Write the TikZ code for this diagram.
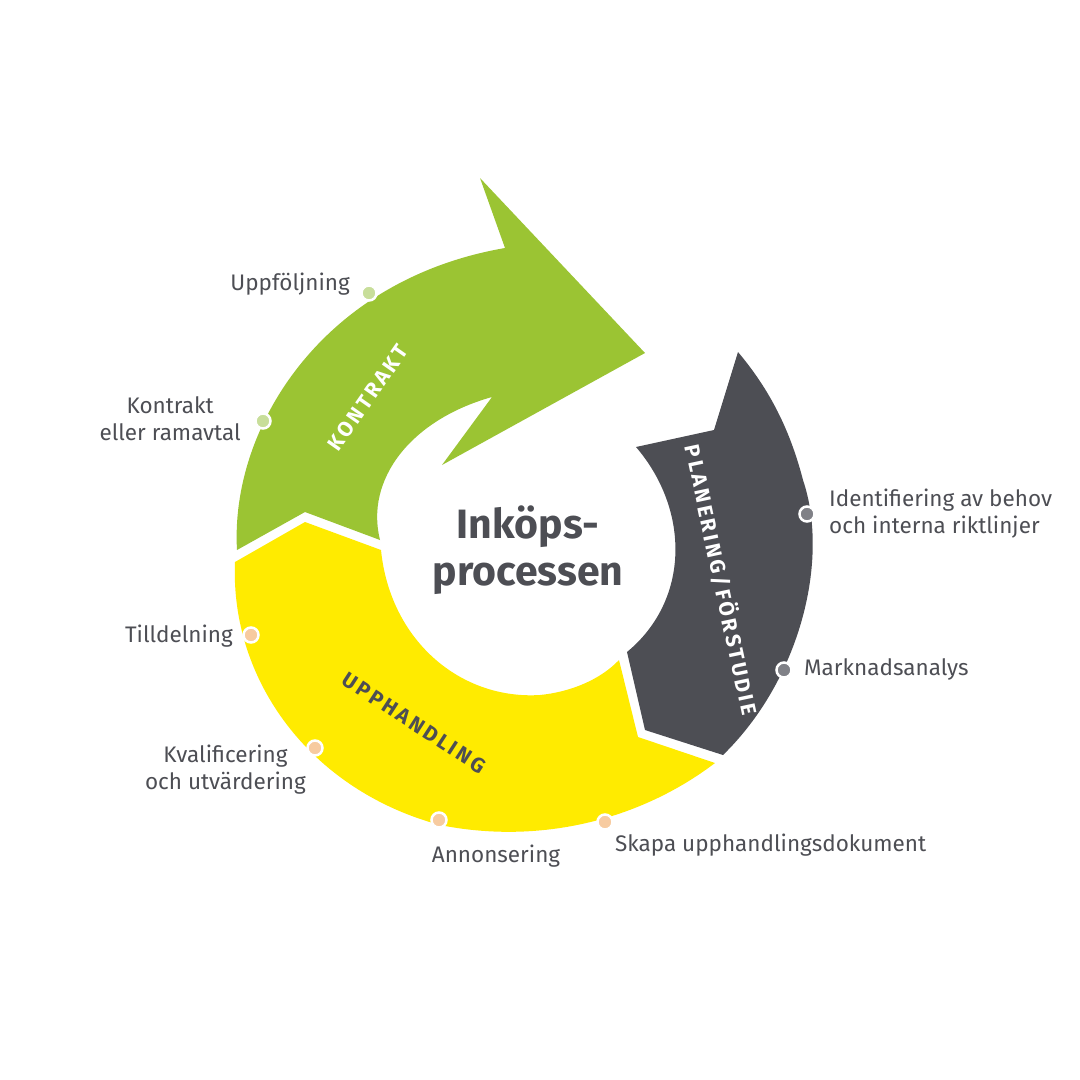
\documentclass[tikz,border=0pt]{standalone}
\usepackage{fontspec}
\setmainfont{Fira Sans}
\begin{document}
\begin{tikzpicture}[x=1pt,y=-1pt,
 lbl/.style={text=txt,font=\fontsize{22.5}{27}\selectfont,align=center,inner sep=0pt},
 seg/.style={font=\bfseries\fontsize{21}{24}\selectfont\addfontfeature{LetterSpace=14},inner sep=0pt},
 dot/.style={circle,draw=white,line width=2.5pt,minimum size=15pt,inner sep=0pt}]
\definecolor{grn}{HTML}{9BC433}\definecolor{yel}{HTML}{FFEB00}\definecolor{drk}{HTML}{4D4E54}
\definecolor{txt}{HTML}{4D4E54}\definecolor{lg}{HTML}{C8DE9A}\definecolor{org}{HTML}{F7CBA0}\definecolor{gd}{HTML}{808187}
\useasboundingbox (0,0) rectangle (1080,1080);
% green
\fill[grn] (237,550) .. controls (230,430) and (320,280) .. (505,248)
 -- (480,178) -- (645,353) -- (442,465) -- (492,397)
 .. controls (410,420) and (365,480) .. (380,540) -- (305,512) -- cycle;
% yellow
\fill[yel] (235,562) -- (305,522) -- (381,550)
 .. controls (390,640) and (460,700) .. (540,695) .. controls (570,692) and (600,680) .. (619,660)
 -- (638,737) -- (715,763)
 .. controls (640,820) and (540,845) .. (440,825) .. controls (310,790) and (230,680) .. (235,562) -- cycle;
% dark
\fill[drk] (738,352) -- (714,430) -- (636,447)
 .. controls (690,510) and (690,600) .. (627,652) -- (645,730) -- (723,755)
 .. controls (800,680) and (830,560) .. (803,480) .. controls (790,430) and (770,390) .. (738,352) -- cycle;
% center
\node[text=txt,font=\bfseries\fontsize{41}{47}\selectfont,align=center] (c) at (528,550) {Inköps-\\processen};
% segment titles
\node[seg,white,rotate=55] (k) at (368,398) {KONTRAKT};
\node[seg,txt,rotate=-33] (u) at (414,723) {UPPHANDLING};
\node[seg,white,rotate=-78] (p) at (722,580) {PLANERING/FÖRSTUDIE};
% dots
\node[dot,fill=lg] (d1) at (369,293) {};
\node[dot,fill=lg] (d2) at (263,421) {};
\node[dot,fill=org] (d3) at (251,635) {};
\node[dot,fill=org] (d4) at (315,748) {};
\node[dot,fill=org] (d5) at (439,820) {};
\node[dot,fill=org] (d6) at (605,822) {};
\node[dot,fill=gd] (d7) at (807,514) {};
\node[dot,fill=gd] (d8) at (784,670) {};
% labels
\node[lbl,anchor=east] (l1) at (350,284) {Uppföljning};
\node[lbl,anchor=east] (l2) at (241,419) {Kontrakt\\eller ramavtal};
\node[lbl,anchor=east] (l3) at (233,636) {Tilldelning};
\node[lbl,anchor=east] (l4) at (306,770) {Kvalificering\\och utvärdering};
\node[lbl] (l5) at (496,856) {Annonsering};
\node[lbl,anchor=west] (l6) at (615,845) {Skapa upphandlingsdokument};
\node[lbl,anchor=west,align=left] (l7) at (829,514) {Identifiering av behov\\och interna riktlinjer};
\node[lbl,anchor=west] (l8) at (804,669) {Marknadsanalys};
\end{tikzpicture}
\end{document}
